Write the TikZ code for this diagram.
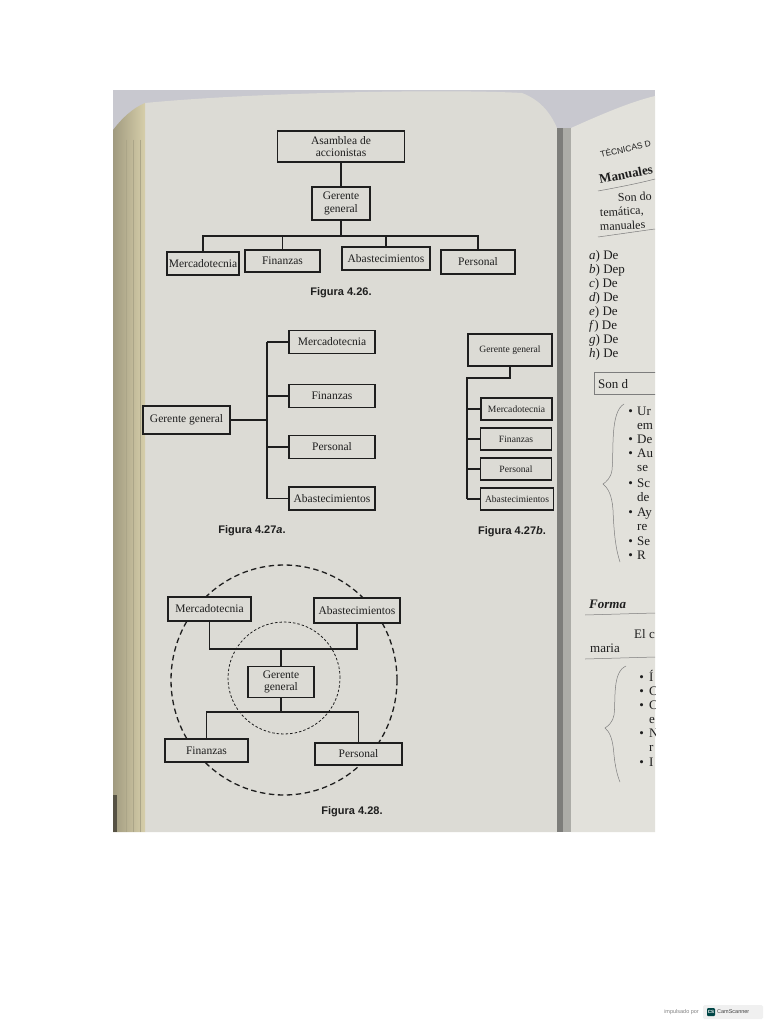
\documentclass[tikz,border=0pt]{standalone}
\usepackage{fontspec}
\setmainfont{Liberation Serif}
\newfontfamily\rotulo{Liberation Sans}
\usetikzlibrary{positioning, calc}

\definecolor{fondo}{RGB}{200,200,207}
\definecolor{hoja}{RGB}{220,219,213}
\definecolor{hojader}{RGB}{226,225,219}
\definecolor{canto}{RGB}{214,206,170}
\definecolor{sombra}{RGB}{125,125,122}
\definecolor{pliegue}{RGB}{172,172,167}
\definecolor{tinta}{RGB}{30,30,30}
\definecolor{grafito}{RGB}{125,125,125}

\begin{document}
\begin{tikzpicture}[
  x=1pt, y=-1pt,
  caja/.style={draw=tinta, fill=hoja, line width=1.4pt, inner sep=1pt, align=center, text=tinta,
    font=\fontsize{11.5}{12.5}\selectfont},
  cajachica/.style={caja, font=\fontsize{9.6}{10.5}\selectfont},
  conector/.style={draw=tinta, line width=1.1pt},
  pie/.style={text=tinta, font=\rotulo\bfseries\fontsize{11}{12}\selectfont},
  circulo/.style={draw=tinta, line width=1.3pt, dash pattern=on 5.5pt off 3.5pt},
  circulochico/.style={draw=tinta, line width=0.8pt, dash pattern=on 2.5pt off 2pt},
  margen/.style={anchor=base west, inner sep=0pt, text=tinta, font=\fontsize{13}{14}\selectfont},
  lapiz/.style={draw=grafito, line width=0.5pt}
]
\useasboundingbox (0,0) rectangle (768,1024);
\fill[white] (0,0) rectangle (768,1024);

% ---- foto del libro abierto --------------------------------------------
\fill[fondo] (113,90) rectangle (655,832);
\fill[hoja] (145,103) .. controls (260,92) and (450,89) .. (522,93)
  .. controls (540,100) and (550,112) .. (557,128) -- (557,832) -- (145,832) -- cycle;
\shade[left color=canto!75!black, right color=canto] (113,130) .. controls (122,118) and (133,108) .. (145,103)
  -- (145,832) -- (113,832) -- cycle;
\foreach \x in {119,126,133,140}
  \draw[canto!80!black, line width=0.4pt] (\x,140) -- (\x,832);
\fill[canto!40!black] (113,795) rectangle (117,832);
\fill[sombra] (557,128) rectangle (563,832);
\fill[pliegue] (563,128) rectangle (571,832);
\fill[hojader] (571,128) .. controls (600,115) and (630,102) .. (655,96) -- (655,832) -- (571,832) -- cycle;

%==============================================================
% Figura 4.26
%==============================================================
\foreach \n/\cx/\cy/\w/\h/\t in {%
  asam/341/146.5/127/31/{Asamblea de\\accionistas},
  ger26/341/203.5/58/33/{Gerente\\general},
  mer26/203/263.5/72/23/{Mercadotecnia},
  fin26/282.5/261/75/22/{Finanzas},
  aba26/386/258.5/88/23/{Abastecimientos},
  per26/478/262/74/24/{Personal}}
  \node[caja, minimum width=\w, minimum height=\h] (\n) at (\cx,\cy) {\t};

\coordinate (bus26) at (341,236);
\draw[conector] (asam.south) -- (ger26.north);
\draw[conector] (ger26.south) -- (bus26);
\draw[conector] (mer26.north) |- (bus26) -| (per26.north);
\foreach \n in {fin26, aba26}
  \draw[conector] (\n.north) -- (\n.north |- bus26);
\node[pie] (pie26) at (341,293) {Figura 4.26.};

%==============================================================
% Figura 4.27a
%==============================================================
\foreach \n/\cx/\cy/\w/\h/\t in {%
  ger27a/186.5/420/87/28/{Gerente general},
  mer27a/332/342/86/23/{Mercadotecnia},
  fin27a/332/396/86/23/{Finanzas},
  per27a/332/447/86/23/{Personal},
  aba27a/332/498.5/86/23/{Abastecimientos}}
  \node[caja, minimum width=\w, minimum height=\h] (\n) at (\cx,\cy) {\t};

\coordinate (eje27a) at (267,420);
\draw[conector] (ger27a.east) -- (eje27a);
\draw[conector] (eje27a |- mer27a.west) -- (eje27a |- aba27a.west);
\foreach \n in {mer27a, fin27a, per27a, aba27a}
  \draw[conector] (eje27a |- \n.west) -- (\n.west);
\node[pie] (pie27a) at (252,531) {Figura 4.27\textit{a}.};

%==============================================================
% Figura 4.27b
%==============================================================
\foreach \n/\cx/\cy/\w/\h/\t in {%
  ger27b/510/350/84/32/{Gerente general},
  mer27b/516.5/409/71/22/{Mercadotecnia},
  fin27b/516/439/71/22/{Finanzas},
  per27b/516/469/71/22/{Personal},
  aba27b/517/499/73/22/{Abastecimientos}}
  \node[cajachica, minimum width=\w, minimum height=\h] (\n) at (\cx,\cy) {\t};

\coordinate (eje27b) at (467,378);
\draw[conector] (ger27b.south) |- (eje27b) -- (eje27b |- aba27b.west);
\foreach \n in {mer27b, fin27b, per27b, aba27b}
  \draw[conector] (eje27b |- \n.west) -- (\n.west);
\node[pie] (pie27b) at (512,532) {Figura 4.27\textit{b}.};

%==============================================================
% Figura 4.28
%==============================================================
\draw[circulo] (284,680) ellipse [x radius=113pt, y radius=115pt];
\draw[circulochico] (284,678) circle [radius=56pt];

\foreach \n/\cx/\cy/\w/\h/\t in {%
  mer28/209.5/609/83/24/{Mercadotecnia},
  aba28/357/610.5/86/25/{Abastecimientos},
  ger28/281/682/66/31/{Gerente\\general},
  fin28/206.5/750.5/83/23/{Finanzas},
  per28/358.5/754/87/22/{Personal}}
  \node[caja, minimum width=\w, minimum height=\h] (\n) at (\cx,\cy) {\t};

\coordinate (sup28) at (281,649);
\coordinate (inf28) at (281,712);
\draw[conector] (mer28.south) |- (sup28) -| (aba28.south);
\draw[conector] (sup28) -- (ger28.north);
\draw[conector] (ger28.south) -- (inf28);
\draw[conector] (fin28.north) |- (inf28) -| (per28.north);
\node[pie] (pie28) at (352,812) {Figura 4.28.};

%==============================================================
% Pagina derecha (cortada)
%==============================================================
\begin{scope}
\clip (571,90) rectangle (655,832);
\node[margen, font=\rotulo\fontsize{8.5}{10}\selectfont, rotate=13] (tecnicas) at (601,158) {TÉCNICAS D};
\node[margen, font=\bfseries\fontsize{13}{15}\selectfont, rotate=11] (manuales) at (600,184) {Manuales d};
\node[margen, font=\fontsize{12}{13}\selectfont, rotate=3] (sondo) at (618,202) {Son do};
\node[margen, font=\fontsize{12}{13}\selectfont, rotate=3] (tematica) at (600,216.5) {temática,};
\node[margen, font=\fontsize{12}{13}\selectfont, rotate=3] (manuales2) at (600,231) {manuales};
\draw[lapiz] (598,191) .. controls (620,187) and (640,183) .. (655,179);
\draw[lapiz] (598,237) .. controls (620,234) and (640,231) .. (655,229);

\foreach \l/\s/\y in {a/De/259, b/Dep/273, c/De/287, d/De/301, e/De/315, f/De/329, g/De/343, h/De/357}
  \node[margen] (lista\l) at (589,\y) {\textit{\l}) \s};

\draw[lapiz, line width=0.7pt] (594,372) rectangle (670,394);
\node[margen] (sond) at (598,388) {Son d};

\foreach \i/\b/\s/\y in {1/1/Ur/415, 2/0/em/429, 3/1/De/443, 4/1/Au/457, 5/0/se/471, 6/1/Sc/487,
    7/0/de/501, 8/1/Ay/516, 9/0/re/530, 10/1/Se/545, 11/1/R/559} {
  \node[margen] (texto\i) at (637,\y) {\s};
  \ifnum\b=1 \node[margen, anchor=base east] (punto\i) at (633,\y) {\textbullet}; \fi
}
\draw[lapiz] (624,404) .. controls (610,412) and (614,450) .. (612,470)
  .. controls (611,478) and (606,482) .. (603,484) .. controls (608,488) and (612,495) .. (613,510)
  .. controls (614,535) and (616,550) .. (620,562);

\node[margen, font=\bfseries\itshape\fontsize{13}{14}\selectfont] (forma) at (589,608) {Forma};
\draw[lapiz] (585,615) -- (655,613);
\node[margen] (elc) at (634,638) {El c};
\node[margen] (maria) at (590,652) {maria};
\draw[lapiz] (585,659) -- (655,657);

\foreach \i/\b/\s/\y in {1/1/Í/681, 2/1/C/695, 3/1/C/709, 4/0/e/723, 5/1/N/737, 6/0/r/751, 7/1/I/766} {
  \node[margen] (letra\i) at (649,\y) {\s};
  \ifnum\b=1 \node[margen, anchor=base east] (bola\i) at (644,\y) {\textbullet}; \fi
}
\draw[lapiz] (626,666) .. controls (612,672) and (616,700) .. (614,715)
  .. controls (613,722) and (608,726) .. (605,728) .. controls (610,732) and (613,740) .. (614,755)
  .. controls (615,765) and (617,775) .. (620,782);
\end{scope}

% ---- marca de agua ----------------------------------------------------
\node[anchor=east, inner sep=0pt, text=gray, font=\rotulo\fontsize{5.5}{6}\selectfont] (impulsado) at (699,1012) {impulsado por};
\fill[gray!12, rounded corners=1.5pt] (703,1005) rectangle (763,1019);
\node[fill=teal!55!black, text=white, rounded corners=1pt, inner sep=0pt, minimum size=8pt,
  font=\rotulo\bfseries\fontsize{4.5}{5}\selectfont] (logo) at (711,1012) {CS};
\node[anchor=west, inner sep=0pt, text=black!75, font=\rotulo\fontsize{5.5}{6}\selectfont] (camscanner) at (717,1012) {CamScanner};

\end{tikzpicture}
\end{document}
